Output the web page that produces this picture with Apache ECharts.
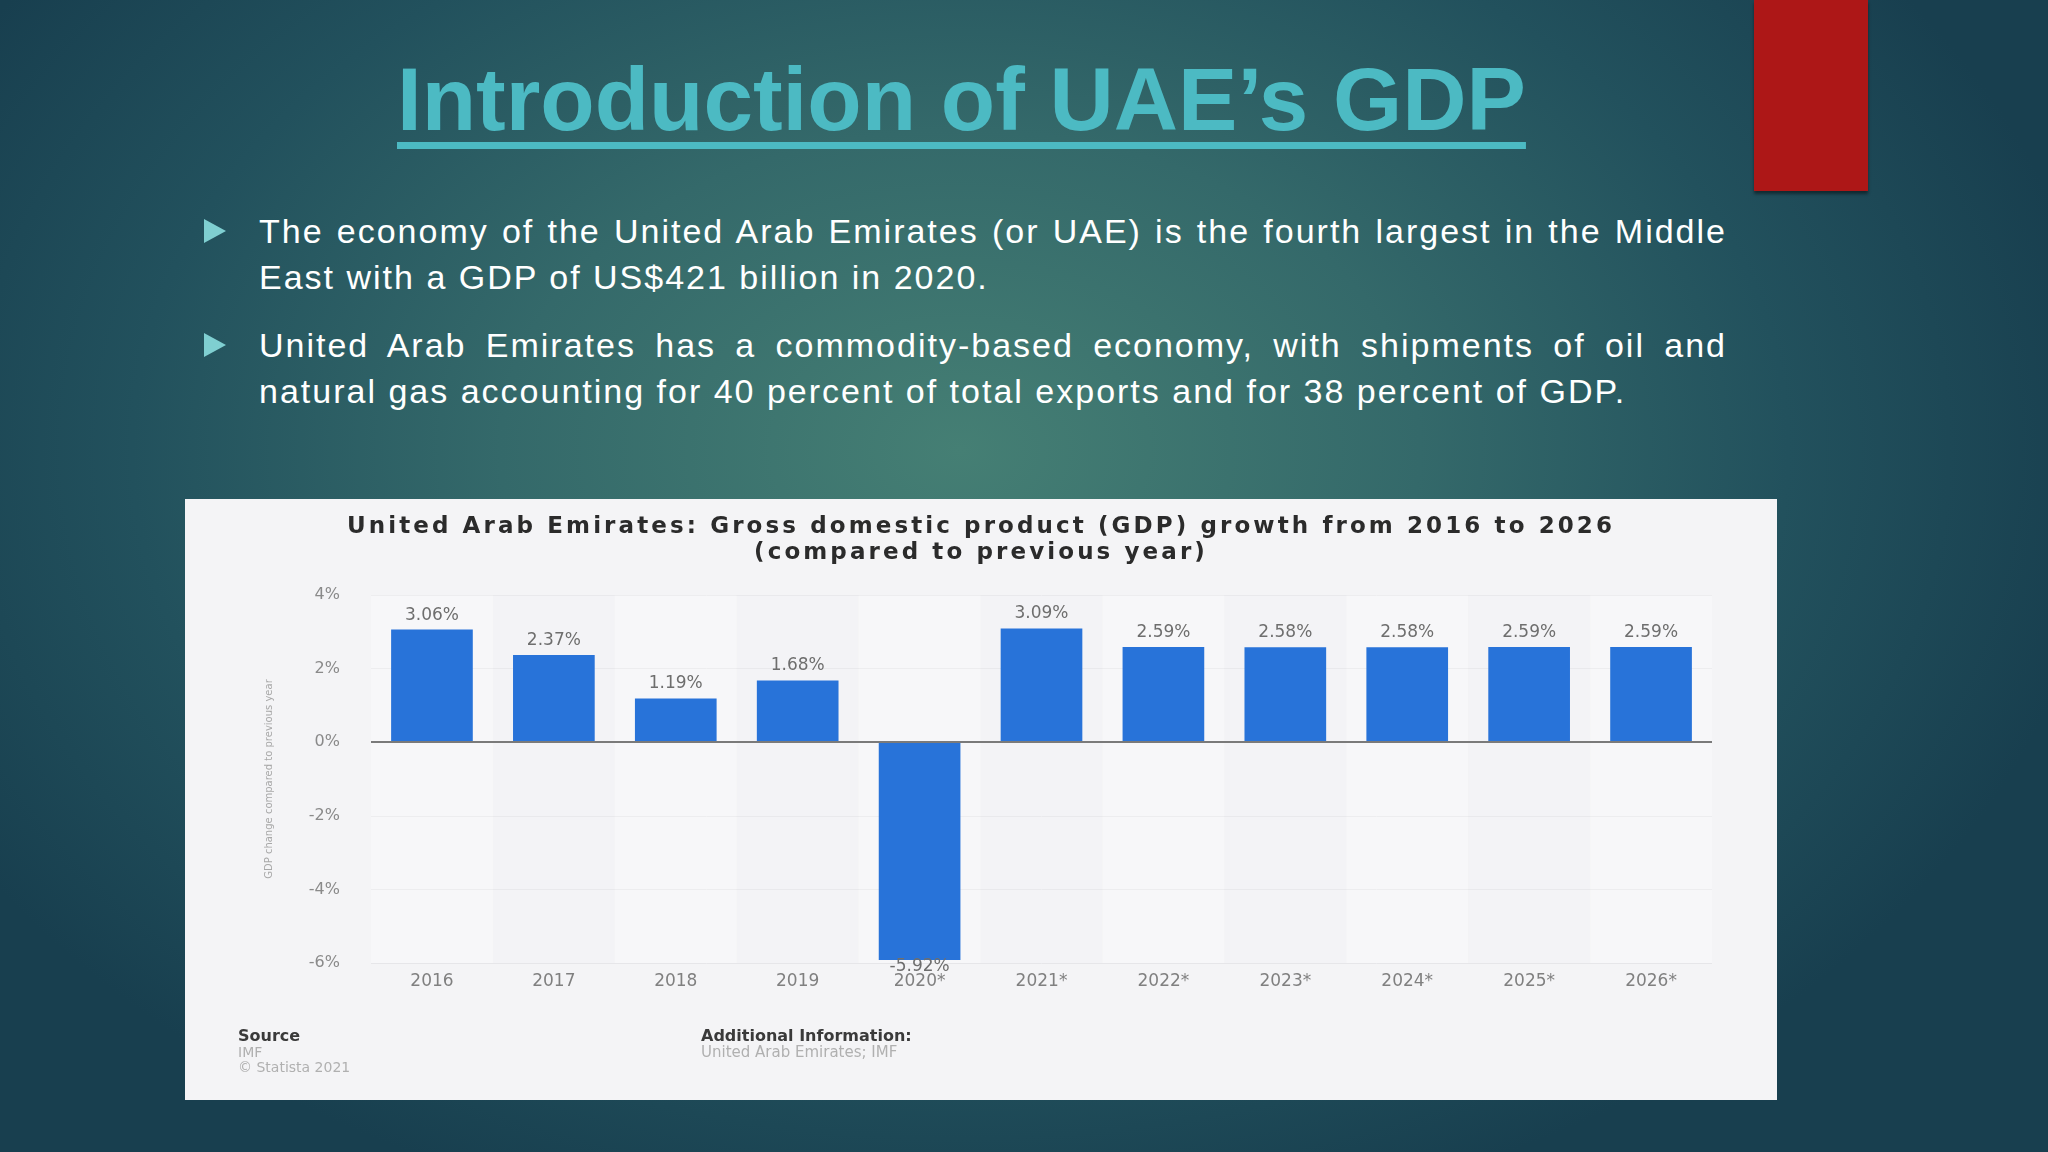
<!DOCTYPE html>
<html>
<head>
<meta charset="UTF-8">
<title>Introduction of UAE's GDP</title>
<script src="https://cdn.jsdelivr.net/npm/echarts@6/dist/echarts.min.js"></script>
<style>
    html, body { margin: 0; padding: 0; }
    body {
        width: 2048px; height: 1152px; overflow: hidden; position: relative;
        font-family: "Liberation Sans", Arial, sans-serif;
        background: radial-gradient(ellipse 1150px 800px at 960px 450px, #457f74 0%, #34696a 40%, #22515d 72%, #183f4f 100%);
    }
    .slide-title {
        position: absolute; left: 397px; top: 48px; margin: 0;
        font-size: 89px; font-weight: bold; color: #4cbac3; white-space: nowrap;
        text-decoration: underline; text-underline-offset: 12px; text-decoration-thickness: 7px;
    }
    .red-tab {
        position: absolute; left: 1754px; top: 0; width: 114px; height: 191px;
        background: #ad1717; box-shadow: 0 3px 3px rgba(0,0,0,0.45);
    }
    .bullets { position: absolute; left: 204px; top: 208px; width: 1523px; }
    .bullet { position: relative; padding-left: 55px; margin-bottom: 22px;
        font-size: 34px; letter-spacing: 2px; line-height: 46px; color: #ffffff; text-align: justify; }
    .bullet:before {
        content: ""; position: absolute; left: 0; top: 11px;
        border-left: 22px solid #7fcfd1; border-top: 12px solid transparent; border-bottom: 12px solid transparent;
    }
    #panel { position: absolute; left: 185px; top: 499px; width: 1592px; height: 601px; background: #f4f4f6; }
    #chart { position: absolute; left: 0; top: 0; width: 1592px; height: 601px; }
    .chart-title {
        position: absolute; left: 0; top: 13px; width: 1592px; text-align: center;
        font-family: "DejaVu Sans", sans-serif; font-weight: bold; font-size: 23px; line-height: 26px;
        letter-spacing: 3.1px; color: #2b2b2b; z-index: 2;
    }
</style>
</head>
<body>
    <h1 class="slide-title">Introduction of UAE’s GDP</h1>
    <div class="red-tab"></div>
    <div class="bullets">
        <div class="bullet">The economy of the United Arab Emirates (or UAE) is the fourth largest in the Middle East with a GDP of US$421 billion in 2020.</div>
        <div class="bullet">United Arab Emirates has a commodity-based economy, with shipments of oil and natural gas accounting for 40 percent of total exports and for 38 percent of GDP.</div>
    </div>
    <div id="panel">
        <div id="chart"></div>
        <div class="chart-title">United Arab Emirates: Gross domestic product (GDP) growth from 2016 to 2026<br>(compared to previous year)</div>
    </div>
<script>
    var years = ['2016', '2017', '2018', '2019', '2020*', '2021*', '2022*', '2023*', '2024*', '2025*', '2026*'];
    var growth = [3.06, 2.37, 1.19, 1.68, -5.92, 3.09, 2.59, 2.58, 2.58, 2.59, 2.59];
    var yTicks = [-6, -4, -2, 0, 2, 4];

    var chart = echarts.init(document.getElementById('chart'));
    var grayFont = '"DejaVu Sans", sans-serif';

    // negative bars get their label under the bar, like the statista original
    var barData = growth.map(function (v) {
        return v < 0 ? { value: v, label: { position: 'bottom', distance: -2 } } : v;
    });

    var option = {
        animation: false,
        grid: { left: 186, right: 65, top: 96, bottom: 137 },
        xAxis: {
            type: 'category',
            data: years,
            axisLine: { show: false },
            axisTick: { show: false },
            axisLabel: { color: '#808080', fontFamily: grayFont, fontSize: 17, margin: 10, interval: 0 },
            splitArea: { show: true, areaStyle: { color: ['rgba(255,255,255,0.3)', 'rgba(242,242,245,0.3)'] } }
        },
        yAxis: {
            type: 'value',
            min: yTicks[0],
            max: yTicks[yTicks.length - 1],
            interval: 2,
            name: 'GDP change compared to previous year',
            nameLocation: 'middle',
            nameGap: 97,
            nameTextStyle: { color: '#a8a8a8', fontSize: 10, fontFamily: grayFont },
            axisLine: { show: false },
            axisTick: { show: false },
            axisLabel: { color: '#8a8a8a', fontFamily: grayFont, fontSize: 16, margin: 31, formatter: '{value}%' },
            splitLine: { lineStyle: { color: '#e6e6e9', width: 1 } }
        },
        series: [{
            type: 'bar',
            data: barData,
            barCategoryGap: '33%',
            itemStyle: { color: '#2873d9' },
            label: {
                show: true,
                position: 'top',
                distance: 6,
                color: '#6e6e6e',
                fontFamily: grayFont,
                fontSize: 17,
                formatter: function (p) { return p.value.toFixed(2) + '%'; }
            },
            markLine: {
                silent: true,
                symbol: 'none',
                label: { show: false },
                lineStyle: { color: '#7a7a7a', type: 'solid', width: 2 },
                data: [{ yAxis: 0 }]
            }
        }],
        graphic: [
            { type: 'text', left: 53, top: 530, style: { text: 'Source', fontFamily: grayFont, fontWeight: 'bold', fontSize: 16, fill: '#3a3a3a' } },
            { type: 'text', left: 53, top: 547, style: { text: 'IMF', fontFamily: grayFont, fontSize: 14, fill: '#b0b0b0' } },
            { type: 'text', left: 53, top: 562, style: { text: '© Statista 2021', fontFamily: grayFont, fontSize: 14, fill: '#b0b0b0' } },
            { type: 'text', left: 516, top: 530, style: { text: 'Additional Information:', fontFamily: grayFont, fontWeight: 'bold', fontSize: 16, fill: '#3a3a3a' } },
            { type: 'text', left: 516, top: 547, style: { text: 'United Arab Emirates; IMF', fontFamily: grayFont, fontSize: 15, fill: '#b0b0b0' } }
        ]
    };
    chart.setOption(option);
</script>
</body>
</html>
